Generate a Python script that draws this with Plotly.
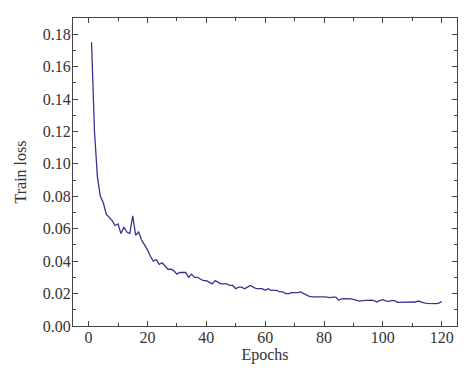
import plotly.graph_objects as go

epochs = list(range(1, 121))
train_loss = [
    0.175, 0.120, 0.092, 0.080, 0.076, 0.069, 0.067, 0.065, 0.062, 0.063,
    0.057, 0.061, 0.058, 0.057, 0.068, 0.056, 0.058, 0.053, 0.050, 0.047,
    0.043, 0.040, 0.041, 0.038, 0.039, 0.037, 0.035, 0.035, 0.034, 0.032,
    0.033, 0.033, 0.033, 0.030, 0.032, 0.030, 0.030, 0.029, 0.028, 0.028,
    0.027, 0.026, 0.028, 0.027, 0.026, 0.026, 0.026, 0.025, 0.025, 0.023,
    0.024, 0.024, 0.023, 0.024, 0.025, 0.024, 0.023, 0.023, 0.023, 0.022,
    0.023, 0.022, 0.022, 0.022, 0.021, 0.021, 0.020, 0.020, 0.0206, 0.0205,
    0.0206, 0.021, 0.020, 0.019, 0.0183, 0.018, 0.018, 0.018, 0.0183, 0.018,
    0.0178, 0.0175, 0.0178, 0.0178, 0.0159, 0.0168, 0.0169, 0.0169, 0.0167, 0.0164,
    0.016, 0.0154, 0.0157, 0.0159, 0.0158, 0.016, 0.0157, 0.0148, 0.0158, 0.0163,
    0.0155, 0.0152, 0.0157, 0.0156, 0.0146, 0.0147, 0.0146, 0.0148, 0.0146, 0.0147,
    0.0148, 0.0154, 0.0146, 0.0142, 0.014, 0.0138, 0.0139, 0.0138, 0.0141, 0.015,
]
x_ticks = [0, 20, 40, 60, 80, 100, 120]
y_ticks = [0.00, 0.02, 0.04, 0.06, 0.08, 0.10, 0.12, 0.14, 0.16, 0.18]

font_family = "Liberation Serif"
axis_color = "#444444"
text_color = "#333333"

fig = go.Figure()
fig.add_trace(go.Scatter(
    x=epochs, y=train_loss, mode="lines",
    line=dict(color="#35358f", width=1.3),
    showlegend=False,
))

common = dict(
    showline=True, linecolor=axis_color, linewidth=1, mirror="ticks",
    ticks="inside", ticklen=5, tickwidth=1, tickcolor=axis_color,
    showgrid=False, zeroline=False, automargin=False,
    tickfont=dict(family=font_family, size=16, color=text_color),
)

fig.update_xaxes(
    range=[-5.3, 125.2], tickvals=x_ticks,
    ticklabelstandoff=-3,
    minor=dict(dtick=10, tick0=0, ticks="inside", ticklen=3, tickcolor=axis_color, showgrid=False),
    title=dict(text="Epochs", font=dict(family=font_family, size=16, color=text_color), standoff=2),
    **common,
)
fig.update_yaxes(
    range=[0, 0.19], tickvals=y_ticks, tickformat=".2f",
    ticklabelstandoff=-2,
    minor=dict(dtick=0.01, tick0=0, ticks="inside", ticklen=3, tickcolor=axis_color, showgrid=False),
    title=dict(text="Train loss", font=dict(family=font_family, size=16, color=text_color), standoff=12),
    **common,
)

# page body adds an 8px offset; size/margins compensate so the plot box lands where the reference has it
fig.update_layout(
    width=466, height=379,
    margin=dict(l=65, r=17, t=10, b=61),
    plot_bgcolor="white", paper_bgcolor="white",
)

fig.write_html("out.html")
